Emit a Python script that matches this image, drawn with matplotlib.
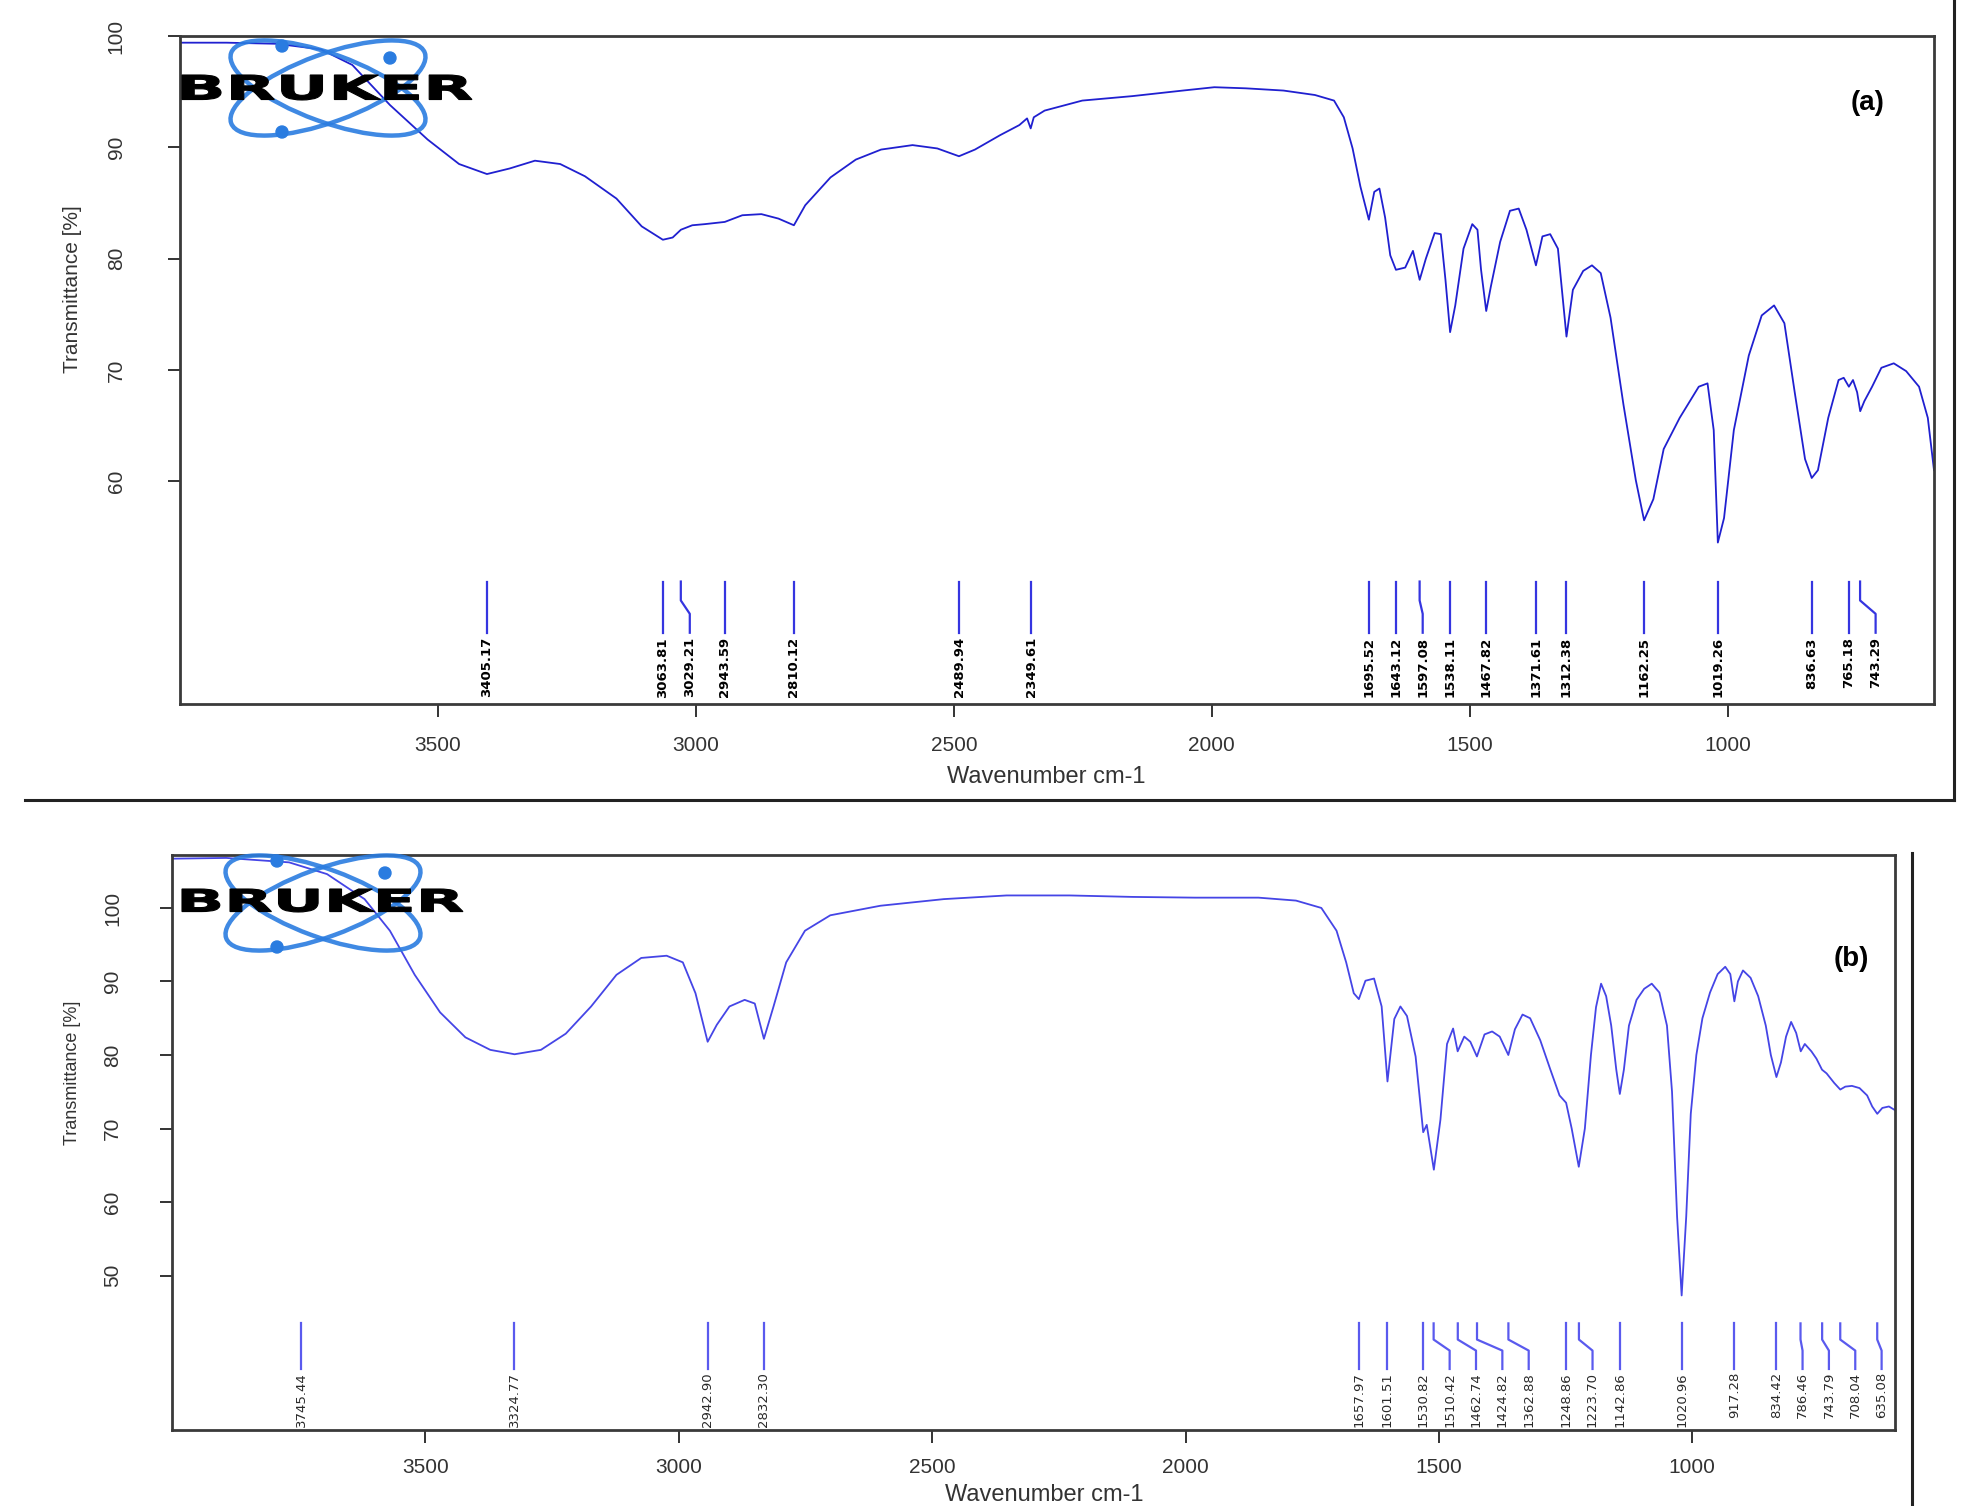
import matplotlib
matplotlib.use("Agg")
import matplotlib.pyplot as plt
from matplotlib.patches import Ellipse, Circle, PathPatch
from matplotlib.textpath import TextPath
from matplotlib.font_manager import FontProperties
from matplotlib.transforms import Affine2D
from matplotlib.lines import Line2D

plt.rcParams['font.family'] = ['Liberation Sans', 'DejaVu Sans']

W, H = 1973, 1506

# ---- panel (a): spectrum
wn_a = [4000, 3910, 3812, 3727, 3666, 3593, 3520, 3459, 3405, 3361, 3312, 3263,
        3215, 3154, 3105, 3064, 3045, 3029, 3007, 2983, 2944, 2910, 2873, 2840,
        2810, 2788, 2739, 2690, 2641, 2580, 2532, 2490, 2459, 2410, 2373, 2358,
        2351, 2345, 2324, 2251, 2154, 2056, 1995, 1934, 1861, 1800, 1763, 1744,
        1727, 1712, 1695.5, 1685, 1675, 1664, 1654, 1643, 1625, 1610, 1597, 1585,
        1568, 1556, 1547, 1538, 1528, 1512, 1495, 1485, 1478, 1468, 1459, 1441,
        1422, 1405, 1390, 1371.6, 1359, 1344, 1329, 1312.4, 1300, 1280, 1263, 1246,
        1227, 1202, 1178, 1162, 1144, 1124, 1093, 1056, 1039, 1027, 1019, 1007,
        988, 959, 934, 910, 890, 870, 850, 837, 825, 805, 785, 775,
        765, 757, 749, 743, 735, 720, 702, 678, 654, 629, 612, 600]
tr_a = [99.4, 99.4, 99.3, 98.8, 97.4, 93.8, 90.7, 88.5, 87.6, 88.1, 88.8, 88.5,
        87.4, 85.4, 82.9, 81.7, 81.9, 82.6, 83.0, 83.1, 83.3, 83.9, 84.0, 83.6,
        83.0, 84.8, 87.3, 88.9, 89.8, 90.2, 89.9, 89.2, 89.8, 91.1, 92.0, 92.6,
        91.7, 92.7, 93.3, 94.2, 94.6, 95.1, 95.4, 95.3, 95.1, 94.7, 94.2, 92.7,
        89.9, 86.5, 83.5, 86.0, 86.3, 83.7, 80.3, 79.0, 79.2, 80.7, 78.1, 80.0,
        82.3, 82.2, 78.1, 73.4, 75.8, 80.9, 83.1, 82.6, 79.0, 75.3, 77.5, 81.5,
        84.3, 84.5, 82.6, 79.4, 82.0, 82.2, 80.9, 73.0, 77.2, 78.9, 79.4, 78.7,
        74.7, 66.9, 60.1, 56.5, 58.4, 62.9, 65.7, 68.5, 68.8, 64.6, 54.5, 56.7,
        64.6, 71.3, 74.9, 75.8, 74.2, 68.0, 62.0, 60.3, 61.0, 65.7, 69.1, 69.3,
        68.5, 69.1, 68.0, 66.3, 67.2, 68.5, 70.2, 70.6, 69.9, 68.5, 65.7, 61.0]
peaks_a = [3405.17, 3063.81, 3029.21, 2943.59, 2810.12, 2489.94, 2349.61,
           1695.52, 1643.12, 1597.08, 1538.11, 1467.82, 1371.61, 1312.38,
           1162.25, 1019.26, 836.63, 765.18, 743.29]

# ---- panel (b)
wn_b = [4000, 3893, 3769, 3694, 3620, 3570, 3521, 3471, 3421, 3372, 3324, 3272,
        3223, 3173, 3123, 3074, 3024, 2992, 2967, 2943, 2925, 2900, 2870, 2850,
        2832, 2813, 2788, 2751, 2701, 2602, 2477, 2353, 2229, 2105, 1981, 1856,
        1782, 1732, 1702, 1683, 1668, 1658, 1645, 1628, 1613, 1601.5, 1588, 1576,
        1563, 1546, 1531, 1524, 1510, 1497, 1484, 1472, 1463, 1450, 1438, 1425,
        1410, 1395, 1380, 1363, 1350, 1335, 1320, 1300, 1280, 1262, 1249, 1238,
        1224, 1212, 1200, 1190, 1180, 1170, 1160, 1150, 1143, 1135, 1125, 1110,
        1095, 1080, 1065, 1050, 1040, 1030, 1021, 1012, 1003, 992, 980, 965,
        950, 935, 925, 917, 910, 900, 885, 870, 855, 845, 834, 825,
        815, 805, 795, 786, 778, 765, 755, 744, 735, 720, 708, 698,
        685, 670, 655, 645, 635, 625, 612, 600]
tr_b = [106.7, 106.8, 106.2, 104.6, 101.2, 96.9, 90.9, 85.8, 82.4, 80.7, 80.1, 80.7,
        82.9, 86.6, 90.9, 93.2, 93.5, 92.6, 88.4, 81.8, 84.1, 86.6, 87.5, 87.0,
        82.2, 86.6, 92.6, 96.9, 99.0, 100.3, 101.2, 101.7, 101.7, 101.5, 101.4, 101.4,
        101.0, 100.0, 96.9, 92.6, 88.4, 87.6, 90.1, 90.4, 86.6, 76.4, 84.9, 86.6,
        85.3, 79.8, 69.5, 70.5, 64.4, 71.2, 81.5, 83.6, 80.5, 82.5, 81.8, 79.8,
        82.8, 83.2, 82.5, 80.0, 83.5, 85.5, 85.0, 82.0, 78.0, 74.5, 73.5, 70.0,
        64.8, 70.0, 80.0, 86.5, 89.7, 88.0, 84.0, 78.0, 74.7, 78.0, 84.0, 87.5,
        89.0, 89.7, 88.5, 84.0, 75.0, 58.0, 47.3, 58.0, 72.0, 80.0, 85.0, 88.5,
        91.0, 92.0, 91.0, 87.3, 90.0, 91.5, 90.5, 88.0, 84.0, 80.0, 77.0, 79.0,
        82.5, 84.5, 83.0, 80.5, 81.5, 80.5, 79.5, 78.0, 77.5, 76.2, 75.3, 75.7,
        75.8, 75.5, 74.5, 73.0, 72.0, 72.8, 73.0, 72.5]
peaks_b = [3745.44, 3324.77, 2942.90, 2832.30, 1657.97, 1601.51, 1530.82,
           1510.42, 1462.74, 1424.82, 1362.88, 1248.86, 1223.70, 1142.86,
           1020.96, 917.28, 834.42, 786.46, 743.79, 708.04, 635.08]


def spread(peaks, gap):
    # labels that crowd each other are pushed to the right (lower wavenumber)
    out = []
    for p in sorted(peaks, reverse=True):
        if out and out[-1] - p < gap:
            p = out[-1] - gap
        out.append(p)
    return out


def mark_peaks(ax, peaks, ys, color, fs, weight, tcolor):
    top, k1, k2, bot, ylab = ys
    for p, lp in zip(sorted(peaks, reverse=True), spread(peaks, 52)):
        ax.plot([p, p, lp, lp], [top, k1, k2, bot], color=color, lw=1.6)
        ax.text(lp, ylab, '%.2f' % p, rotation=90, ha='center', va='top',
                fontsize=fs, fontweight=weight, color=tcolor,
                family='DejaVu Sans')


fig = plt.figure(figsize=(W / 100, H / 100), dpi=100)
px = Affine2D().scale(1 / 100) + fig.dpi_scale_trans   # figure pixels, y up


def logo(cx, cy, tx0, tx1, ty0, ty1):
    for ang in (20, -20):
        fig.add_artist(Ellipse((cx, H - cy), 206, 68, angle=ang, fill=False,
                               ec='#2a7ce0', lw=3.2, transform=px, alpha=0.9))
    for dx, dy in ((-46, -42), (-46, 44), (62, -30)):
        fig.add_artist(Circle((cx + dx, H - cy - dy), 6, color='#2a7ce0',
                              transform=px))
    tp = TextPath((0, 0), 'BRUKER', size=1,
                  prop=FontProperties(family='DejaVu Sans', weight='heavy'))
    ex = tp.get_extents()
    tr = (Affine2D().translate(-ex.x0, -ex.y0)
          .scale((tx1 - tx0) / ex.width, (ty1 - ty0) / ex.height)
          .translate(tx0, H - ty1) + px)
    fig.add_artist(PathPatch(tp, fc='black', ec='black', lw=0.8, transform=tr))


def style(ax, ylim, yticks, fs_y, ypad, xpad):
    ax.set_xlim(4000, 600)
    ax.set_ylim(*ylim)
    ax.set_xticks([3500, 3000, 2500, 2000, 1500, 1000])
    ax.set_yticks(yticks)
    ax.tick_params(direction='out', length=9, width=1.4, colors='#333333',
                   labelsize=15)
    ax.tick_params(axis='y', pad=ypad)
    ax.tick_params(axis='x', pad=xpad)
    for lab in ax.get_yticklabels():
        lab.set_rotation(90)
        lab.set_va('center')
    for s in ax.spines.values():
        s.set_linewidth(2.0)
        s.set_color('#3a3a3a')
    ax.set_xlabel('Wavenumber cm-1', fontsize=17, color='#333333')
    ax.set_ylabel('Transmittance [%]', fontsize=fs_y, color='#333333')


# panel (a)
ax1 = fig.add_axes([180 / W, 1 - 704 / H, 1754 / W, 668 / H])
ax1.plot(wn_a, tr_a, color='#2020d0', lw=1.3)
mark_peaks(ax1, peaks_a, (51.0, 49.3, 48.1, 46.4, 46.0), '#3535e0', 9.5,
           'bold', 'black')
style(ax1, (40, 99.55), [60, 70, 80, 90, 100], 15, 30, 14)
ax1.xaxis.set_label_coords(0.494, -0.093)
ax1.yaxis.set_label_coords(-0.056, 0.621)
ax1.text(0.972, 0.9, '(a)', transform=ax1.transAxes, fontsize=20,
         fontweight='bold', ha='right', va='center')

# panel (b)
ax2 = fig.add_axes([172 / W, 1 - 1430 / H, 1723 / W, 575 / H])
ax2.plot(wn_b, tr_b, color='#4545e6', lw=1.3)
mark_peaks(ax2, peaks_b, (43.5, 41.3, 39.8, 37.3, 36.9), '#5a5aee', 9.5,
           'normal', '#2a2a2a')
style(ax2, (29, 107.2), [50, 60, 70, 80, 90, 100], 13, 27, 11)
ax2.xaxis.set_label_coords(0.506, -0.094)
ax2.yaxis.set_label_coords(-0.053, 0.621)
ax2.text(0.985, 0.82, '(b)', transform=ax2.transAxes, fontsize=20,
         fontweight='bold', ha='right', va='center')

logo(328, 88, 182, 472, 75, 100)
logo(323, 903, 182, 463, 889, 912)

# outer frame lines of the composite
fig.add_artist(Line2D([25, 1954], [H - 800, H - 800], color='#222222', lw=2.2,
                      transform=px))
fig.add_artist(Line2D([1954, 1954], [H - 800, H], color='#222222', lw=2.2,
                      transform=px))
fig.add_artist(Line2D([1912, 1912], [0, H - 853], color='#222222', lw=2.2,
                      transform=px))

fig.savefig('out.png', dpi=100)
